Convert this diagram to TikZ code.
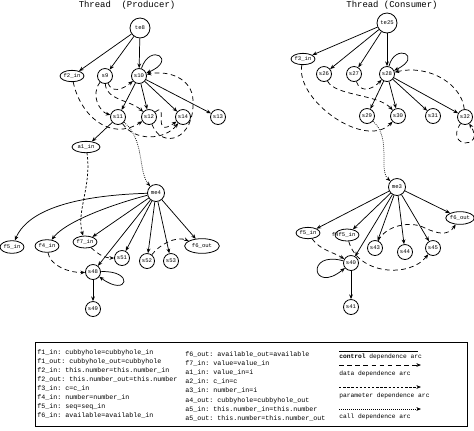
\documentclass[tikz,border=0pt]{standalone}
\usepackage{fontspec}
\setmonofont{Liberation Mono}
\usetikzlibrary{arrows.meta,shapes.geometric}
\begin{document}
\begin{tikzpicture}[x=0.75pt,y=-0.75pt,
  lbl/.style={font=\ttfamily\fontsize{4.2}{5}\selectfont},
  snode/.style={circle,draw,line width=0.6pt,inner sep=0pt,minimum size=11.25pt,lbl},
  tnode/.style={snode,minimum size=15pt},
  mnode/.style={snode,minimum size=12.75pt},
  enode/.style={ellipse,draw,line width=0.6pt,inner sep=0pt,minimum width=18pt,minimum height=8.5pt,lbl},
  ctrl/.style={line width=0.55pt,-{Stealth[length=3.5pt,width=2.8pt]}},
  dataarc/.style={ctrl,dash pattern=on 3.5pt off 2.6pt},
  paramarc/.style={ctrl,dash pattern=on 1.8pt off 1.3pt},
  callarc/.style={ctrl,dash pattern=on 0.6pt off 0.9pt},
  legtxt/.style={anchor=west,inner sep=0pt,text height=3.6pt,text depth=1.1pt,font=\ttfamily\fontsize{5}{6}\selectfont},
  legtxt3/.style={legtxt,font=\ttfamily\fontsize{4.7}{6}\selectfont},
  ttl/.style={anchor=base,inner sep=0pt,font=\ttfamily\fontsize{6.7}{8}\selectfont}]
\useasboundingbox (0,0) rectangle (474,430);

% titles
\node[ttl] (tp) at (127,7) {Thread\ \ (Producer)};
\node[ttl] (tc) at (392,7) {Thread (Consumer)};

% ---------------- Producer ----------------
\node[tnode] (te8) at (140,28) {te8};
\node[enode] (f2_in) at (72,76) {f2\_in};
\node[snode] (s9) at (105,76) {s9};
\node[snode] (s10) at (139,76) {s10};
\node[snode] (s11) at (118,117) {s11};
\node[snode] (s12) at (149,117) {s12};
\node[snode] (s14) at (183,117) {s14};
\node[snode] (s13) at (218,117) {s13};
\node[enode,minimum width=21pt] (a1_in) at (86,147) {a1\_in};
\node[mnode] (me4) at (156,193) {me4};
\node[enode,minimum height=9.5pt] (f5_in) at (12,247) {f5\_in};
\node[enode,minimum height=9.5pt] (f4_in) at (47,246) {f4\_in};
\node[enode,minimum height=9pt] (f7_in) at (85,242) {f7\_in};
\node[snode] (s51) at (122,258) {s51};
\node[snode] (s52) at (147,261) {s52};
\node[snode] (s53) at (171,261) {s53};
\node[enode,minimum width=26pt,minimum height=11pt] (f6_out) at (202,246) {f6\_out};
\node[snode] (s48) at (93,272) {s48};
\node[snode] (s49) at (93,309) {s49};

\draw[ctrl] (te8) -- (f2_in);
\draw[ctrl] (te8) -- (s9);
\draw[ctrl] (te8) -- (s10);
\draw[ctrl] (s10) .. controls (150,42) and (178,60) .. (s10);
\draw[ctrl] (s10) -- (s11);
\draw[ctrl] (s10) -- (s12);
\draw[ctrl] (s10) -- (s14);
\draw[ctrl] (s10) -- (s13);
\draw[ctrl] (s11) -- (a1_in);

\draw[dataarc] (f2_in) .. controls (80,115) and (110,142) .. (s12);
\draw[dataarc] (s9) .. controls (90,95) and (100,112) .. (s11);
\draw[dataarc] (s9) .. controls (112,93) and (122,90) .. (s10);
\draw[dataarc] (s9) .. controls (106,100) and (130,100) .. (s12);
\draw[dataarc] (s12) .. controls (162,150) and (195,140) .. (193,100) .. controls (192,78) and (168,70) .. (s10);
\draw[dataarc] (s11) .. controls (135,142) and (165,140) .. (s14);
\draw[dataarc] (s12) .. controls (170,100) and (150,140) .. (s14);

\draw[callarc] (s11) .. controls (145,140) and (138,172) .. (me4);
\draw[paramarc] (a1_in) .. controls (92,185) and (76,212) .. (f7_in);

\draw[ctrl] (me4) .. controls (90,195) and (30,205) .. (f5_in);
\draw[ctrl] (me4) .. controls (110,205) and (65,222) .. (f4_in);
\draw[ctrl] (me4) -- (f7_in);
\draw[ctrl] (me4) -- (s48);
\draw[ctrl] (me4) -- (s51);
\draw[ctrl] (me4) -- (s52);
\draw[ctrl] (me4) -- (s53);
\draw[ctrl] (me4) -- (f6_out);
\draw[ctrl] (s48) .. controls (135,270) and (128,298) .. (s48);
\draw[ctrl] (s48) -- (s49);

\draw[dataarc] (f4_in) .. controls (50,266) and (70,273) .. (s48);
\draw[dataarc] (f7_in) .. controls (100,256) and (106,258) .. (s51);
\draw[dataarc] (s52) .. controls (160,244) and (176,236) .. (f6_out);

% ---------------- Consumer ----------------
\node[tnode] (te25) at (387,23) {te25};
\node[enode,minimum height=8.5pt] (f3_in) at (303,59) {f3\_in};
\node[snode] (s26) at (324,74) {s26};
\node[snode] (s27) at (354,74) {s27};
\node[snode] (s28) at (387,74) {s28};
\node[snode] (s29) at (367,116) {s29};
\node[snode] (s30) at (398,116) {s30};
\node[snode] (s31) at (433,116) {s31};
\node[snode] (s32) at (465,117) {s32};
\node[mnode] (me3) at (397,187) {me3};
\node[enode,minimum height=9.5pt] (f6_out2) at (460,218) {f6\_out};
\node[enode,minimum height=8.5pt] (f5_in2) at (308,233) {f5\_in};
\node[enode,minimum height=9pt] (f4_in2) at (347,235) {\llap{f4}f5\_in};
\node[snode] (s43) at (375,248) {s43};
\node[snode] (s44) at (405,252) {s44};
\node[snode] (s45) at (433,248) {s45};
\node[snode] (s40) at (351,263) {s40};
\node[snode] (s41) at (351,307) {s41};

\draw[ctrl] (te25) -- (f3_in);
\draw[ctrl] (te25) -- (s26);
\draw[ctrl] (te25) -- (s27);
\draw[ctrl] (te25) -- (s28);
\draw[ctrl] (s28) .. controls (395,42) and (424,56) .. (s28);
\draw[ctrl] (s28) -- (s29);
\draw[ctrl] (s28) -- (s30);
\draw[ctrl] (s28) -- (s31);
\draw[ctrl] (s28) -- (s32);

\draw[dataarc] (f3_in) .. controls (295,100) and (365,150) .. (s30);
\draw[dataarc] (s26) .. controls (335,96) and (378,94) .. (s30);
\draw[dataarc] (s27) .. controls (360,93) and (372,90) .. (s28);
\draw[dataarc] (s32) .. controls (462,85) and (430,64) .. (s28);
\draw[dataarc] (s32) .. controls (444,148) and (486,150) .. (s32);

\draw[callarc] (s29) .. controls (392,138) and (378,170) .. (me3);

\draw[ctrl] (me3) -- (f5_in2);
\draw[ctrl] (me3) -- (f4_in2);
\draw[ctrl] (me3) -- (s40);
\draw[ctrl] (me3) -- (s43);
\draw[ctrl] (me3) -- (s44);
\draw[ctrl] (me3) -- (s45);
\draw[ctrl] (me3) -- (f6_out2);
\draw[ctrl] (s40) .. controls (305,250) and (312,295) .. (s40);
\draw[ctrl] (s40) -- (s41);

\draw[dataarc] (f5_in2) .. controls (320,250) and (333,252) .. (s40);
\draw[dataarc] (f4_in2) .. controls (358,275) and (410,278) .. (s45);
\draw[dataarc] (s43) .. controls (385,226) and (410,220) .. (425,228) .. controls (438,234) and (448,236) .. (f6_out2);

% ---------------- Legend ----------------
\draw[line width=0.6pt] (35,342) rectangle (467,426);
\node[legtxt] (l1) at (37,353) {f1\_in: cubbyhole=cubbyhole\_in};
\node[legtxt] (l2) at (37,362) {f1\_out: cubbyhole\_out=cubbyhole};
\node[legtxt] (l3) at (37,371) {f2\_in: this.number=this.number\_in};
\node[legtxt] (l4) at (37,380) {f2\_out: this.number\_out=this.number};
\node[legtxt] (l5) at (37,389) {f3\_in: c=c\_in};
\node[legtxt] (l6) at (37,398) {f4\_in: number=number\_in};
\node[legtxt] (l7) at (37,407) {f5\_in: seq=seq\_in};
\node[legtxt] (l8) at (37,416) {f6\_in: available=available\_in};

\node[legtxt] (m1) at (185,355) {f6\_out: available\_out=available};
\node[legtxt] (m2) at (185,364) {f7\_in: value=value\_in};
\node[legtxt] (m3) at (185,373) {a1\_in: value\_in=i};
\node[legtxt] (m4) at (185,382) {a2\_in: c\_in=c};
\node[legtxt] (m5) at (185,391) {a3\_in: number\_in=i};
\node[legtxt] (m6) at (185,401) {a4\_out: cubbyhole=cubbyhole\_out};
\node[legtxt] (m7) at (185,410) {a5\_in: this.number\_in=this.number};
\node[legtxt] (m8) at (185,419) {a5\_out: this.number=this.number\_out};

\coordinate (lc1) at (339,351); \coordinate (lc2) at (418,351);
\coordinate (ld1) at (339,365); \coordinate (ld2) at (421,365);
\coordinate (lp1) at (339,387); \coordinate (lp2) at (421,387);
\coordinate (lk1) at (339,409); \coordinate (lk2) at (421,409);
\draw[line width=0.6pt] (lc1) -- (lc2);
\draw[dataarc] (ld1) -- (ld2);
\draw[paramarc] (lp1) -- (lp2);
\draw[callarc] (lk1) -- (lk2);
\node[legtxt3] (n1) at (339,357) {\textbf{control} dependence arc};
\node[legtxt3] (n2) at (339,374) {data dependence arc};
\node[legtxt3] (n3) at (339,396) {parameter dependence arc};
\node[legtxt3] (n4) at (339,417) {call dependence arc};
\end{tikzpicture}
\end{document}
